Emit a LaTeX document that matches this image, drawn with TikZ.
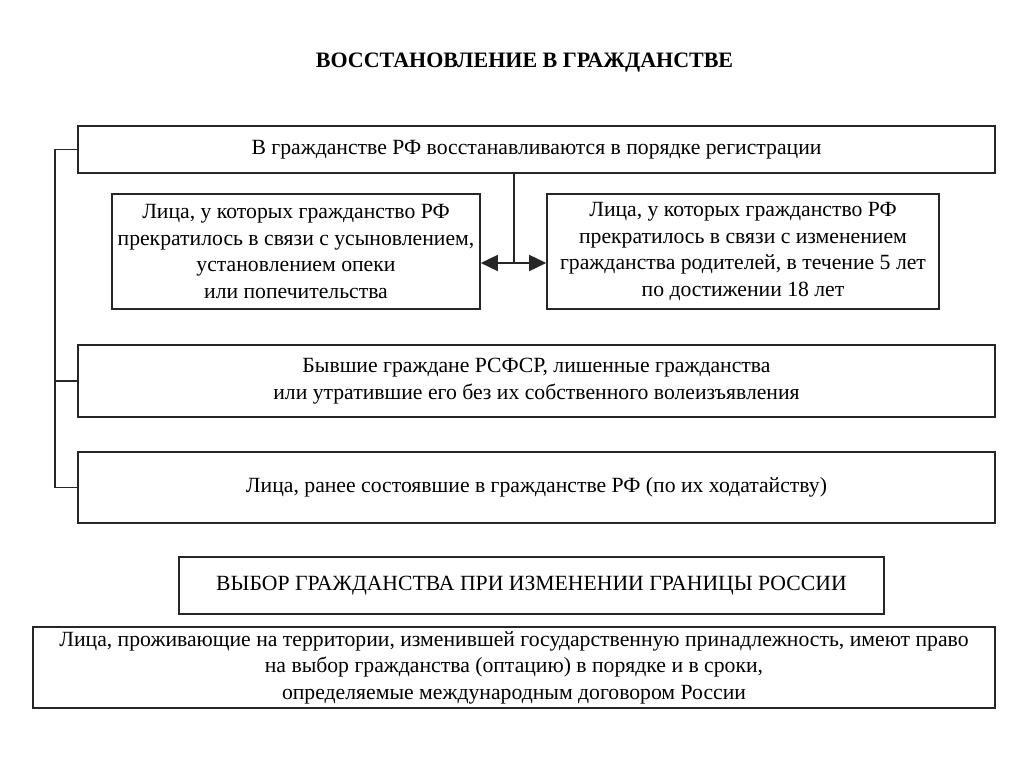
\documentclass[tikz,border=0pt]{standalone}
\usepackage{fontspec}
\setmainfont{Liberation Serif}
\usetikzlibrary{arrows.meta}
\tikzset{
	box/.style={draw=black!85,line width=1.6pt,align=center,inner sep=0pt,font=\fontsize{21.7}{26.5}\selectfont},
	link/.style={draw=black!85,line width=1.6pt}
}
\begin{document}
	\begin{tikzpicture}[x=1pt,y=-1pt]
		\fill[color=white] (0,0) rectangle (1024,767);
		\useasboundingbox (0,0) rectangle (1024,767);
		\node[font=\bfseries\fontsize{22}{24}\selectfont] (title) at (524.5,63) {ВОССТАНОВЛЕНИЕ В ГРАЖДАНСТВЕ};
		\node[box,minimum width=917,minimum height=47] (top) at (536.5,149.5) {В гражданстве РФ восстанавливаются в порядке регистрации};
		\node[box,minimum width=368,minimum height=115] (left) at (296,251.5) {Лица, у которых гражданство РФ\\прекратилось в связи с усыновлением,\\установлением опеки\\или попечительства};
		\node[box,minimum width=392,minimum height=115] (right) at (743,251.5) {Лица, у которых гражданство РФ\\прекратилось в связи с изменением\\гражданства родителей, в течение 5 лет\\по достижении 18 лет};
		\node[box,minimum width=917,minimum height=72] (mid) at (536.5,381) {Бывшие граждане РСФСР, лишенные гражданства\\или утратившие его без их собственного волеизъявления};
		\node[box,minimum width=917,minimum height=71] (low) at (536.5,487.5) {Лица, ранее состоявшие в гражданстве РФ (по их ходатайству)};
		\node[box,minimum width=705,minimum height=57] (choice) at (531.5,585.5) {ВЫБОР ГРАЖДАНСТВА ПРИ ИЗМЕНЕНИИ ГРАНИЦЫ РОССИИ};
		\node[box,minimum width=962,minimum height=81] (opt) at (514,667.5) {Лица, проживающие на территории, изменившей государственную принадлежность, имеют право\\на выбор гражданства (оптацию) в порядке и в сроки,\\определяемые международным договором России};
		\coordinate (hub) at (514,263);
		\draw[link] (top.west) -- ++(-22,0) |- (low.west);
		\draw[link] (mid.west) -- ++(-22,0);
		\draw[link] (top.south -| hub) -- (hub);
		\draw[link,-{Triangle[length=17pt,width=16pt]}] (hub) -- (hub -| left.east);
		\draw[link,-{Triangle[length=17pt,width=16pt]}] (hub) -- (hub -| right.west);
	\end{tikzpicture}
\end{document}
